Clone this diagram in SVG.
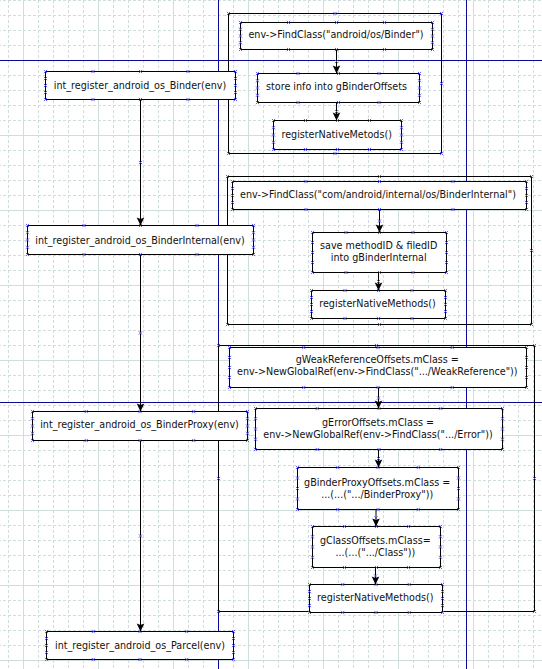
<svg xmlns="http://www.w3.org/2000/svg" width="542" height="669" viewBox="0 0 542 669">
<style>
.grid-major{stroke:#cfdddd;stroke-width:1;fill:none}
.grid-minor{stroke:#cfdddd;stroke-width:1;fill:none;stroke-dasharray:3,2}
.guide{stroke:#0a0a96;stroke-width:1;fill:none}
.outer{fill:none;stroke:#000;stroke-width:1}
.box{fill:#fff;stroke:#000;stroke-width:1}
.cps{fill:none;stroke:none;marker-start:url(#cp);marker-mid:url(#cp);marker-end:url(#cp)}
.lbl{font-family:"DejaVu Sans","Liberation Sans",sans-serif;font-size:9.6px;fill:#111;text-anchor:middle}
.conn{fill:none;stroke:#000;stroke-width:1;marker-mid:url(#cp);marker-end:url(#arrow)}
</style>
<defs>
<pattern id="grid" patternUnits="userSpaceOnUse" x="23" y="60" width="75" height="75">
<path class="grid-minor" d="M15.5,0V75M30.5,0V75M45.5,0V75M60.5,0V75M0,15.5H75M0,30.5H75M0,45.5H75M0,60.5H75"/>
<path class="grid-major" d="M0.5,0V75M0,0.5H75"/>
</pattern>
<marker id="cp" markerUnits="userSpaceOnUse" markerWidth="6" markerHeight="6" viewBox="-3 -3 6 6" refX="0" refY="0" overflow="visible">
<path d="M-1.6,-1.6L1.6,1.6M-1.6,1.6L1.6,-1.6" stroke="#5050e6" stroke-width="0.9" fill="none"/>
</marker>
<marker id="arrow" markerUnits="userSpaceOnUse" markerWidth="10" markerHeight="10" viewBox="-9 -5 10 10" refX="0" refY="0" orient="auto" overflow="visible">
<path d="M0,0L-8,-3.8L-6.5,0L-8,3.8z" fill="#000"/>
</marker>
</defs>
<rect x="0" y="0" width="542" height="669" fill="#fff"/>
<rect x="0" y="0" width="542" height="669" fill="url(#grid)"/>
<g id="guides">
<path class="guide" d="M218.5,0V669M466.5,0V669M0,60.5H542M0,402.5H542"/>
</g>
<g id="group-binder">
<rect class="outer" x="228.5" y="13.5" width="213" height="140"/>
<path class="cps" d="M228.5,13.5h106.5h106.5v70v70h-106.5h-106.5v-70"/>
</g>
<g id="group-binderinternal">
<rect class="outer" x="227.5" y="176.5" width="304" height="148"/>
<path class="cps" d="M227.5,176.5h152h152v74v74h-152h-152v-74"/>
</g>
<g id="group-binderproxy">
<rect class="outer" x="218.5" y="345.5" width="316" height="266"/>
<path class="cps" d="M218.5,345.5h158h158v133v133h-158h-158v-133"/>
</g>
<g id="n1">
<rect class="box" x="45.5" y="71.5" width="190" height="28"/>
<path class="cps" d="M45.5,71.5h47.5h47.5h47.5h47.5v7v7v7v7h-47.5h-47.5h-47.5h-47.5v-7v-7v-7"/>
<text class="lbl" x="140" y="88.5">int_register_android_os_Binder(env)</text>
</g>
<g id="n2">
<rect class="box" x="27.5" y="225.5" width="226" height="29"/>
<path class="cps" d="M27.5,225.5h56.5h56.5h56.5h56.5v7.25v7.25v7.25v7.25h-56.5h-56.5h-56.5h-56.5v-7.25v-7.25v-7.25"/>
<text class="lbl" x="140" y="243.5">int_register_android_os_BinderInternal(env)</text>
</g>
<g id="n3">
<rect class="box" x="32.5" y="411.5" width="215" height="29"/>
<path class="cps" d="M32.5,411.5h53.75h53.75h53.75h53.75v7.25v7.25v7.25v7.25h-53.75h-53.75h-53.75h-53.75v-7.25v-7.25v-7.25"/>
<text class="lbl" x="139.5" y="427.8">int_register_android_os_BinderProxy(env)</text>
</g>
<g id="n4">
<rect class="box" x="46.5" y="631.5" width="187" height="28"/>
<path class="cps" d="M46.5,631.5h46.75h46.75h46.75h46.75v7v7v7v7h-46.75h-46.75h-46.75h-46.75v-7v-7v-7"/>
<text class="lbl" x="140" y="648.5">int_register_android_os_Parcel(env)</text>
</g>
<g id="n5">
<rect class="box" x="240.5" y="22.5" width="192" height="27"/>
<path class="cps" d="M240.5,22.5h48h48h48h48v6.75v6.75v6.75v6.75h-48h-48h-48h-48v-6.75v-6.75v-6.75"/>
<text class="lbl" x="336" y="37.5">env-&gt;FindClass("android/os/Binder")</text>
</g>
<g id="n6">
<rect class="box" x="257.5" y="73.5" width="162" height="29"/>
<path class="cps" d="M257.5,73.5h40.5h40.5h40.5h40.5v7.25v7.25v7.25v7.25h-40.5h-40.5h-40.5h-40.5v-7.25v-7.25v-7.25"/>
<text class="lbl" x="336.5" y="89.5">store info into gBinderOffsets</text>
</g>
<g id="n7">
<rect class="box" x="273.5" y="120.5" width="128" height="29"/>
<path class="cps" d="M273.5,120.5h32h32h32h32v7.25v7.25v7.25v7.25h-32h-32h-32h-32v-7.25v-7.25v-7.25"/>
<text class="lbl" x="336.7" y="138.2">registerNativeMetods()</text>
</g>
<g id="n8">
<rect class="box" x="232.5" y="181.5" width="294" height="28"/>
<path class="cps" d="M232.5,181.5h73.5h73.5h73.5h73.5v7v7v7v7h-73.5h-73.5h-73.5h-73.5v-7v-7v-7"/>
<text class="lbl" x="378" y="197.8">env-&gt;FindClass("com/android/internal/os/BinderInternal")</text>
</g>
<g id="n9">
<rect class="box" x="312.5" y="232.5" width="134" height="40"/>
<path class="cps" d="M312.5,232.5h33.5h33.5h33.5h33.5v10v10v10v10h-33.5h-33.5h-33.5h-33.5v-10v-10v-10"/>
<text class="lbl" x="378.7" y="248.5">save methodID &amp; filedID</text>
<text class="lbl" x="378.7" y="260.8">into gBinderInternal</text>
</g>
<g id="n10">
<rect class="box" x="311.5" y="290.5" width="134" height="28"/>
<path class="cps" d="M311.5,290.5h33.5h33.5h33.5h33.5v7v7v7v7h-33.5h-33.5h-33.5h-33.5v-7v-7v-7"/>
<text class="lbl" x="377.5" y="306.8">registerNativeMethods()</text>
</g>
<g id="n11">
<rect class="box" x="229.5" y="347.5" width="297" height="40"/>
<path class="cps" d="M229.5,347.5h74.25h74.25h74.25h74.25v10v10v10v10h-74.25h-74.25h-74.25h-74.25v-10v-10v-10"/>
<text class="lbl" x="377.3" y="362.8">gWeakReferenceOffsets.mClass =</text>
<text class="lbl" x="377.3" y="374.8">env-&gt;NewGlobalRef(env-&gt;FindClass(".../WeakReference"))</text>
</g>
<g id="n12">
<rect class="box" x="255.5" y="408.5" width="247" height="41"/>
<path class="cps" d="M255.5,408.5h61.75h61.75h61.75h61.75v10.25v10.25v10.25v10.25h-61.75h-61.75h-61.75h-61.75v-10.25v-10.25v-10.25"/>
<text class="lbl" x="378" y="425.5">gErrorOffsets.mClass =</text>
<text class="lbl" x="378" y="437.8">env-&gt;NewGlobalRef(env-&gt;FindClass(".../Error"))</text>
</g>
<g id="n13">
<rect class="box" x="297.5" y="467.5" width="161" height="42"/>
<path class="cps" d="M297.5,467.5h40.25h40.25h40.25h40.25v10.5v10.5v10.5v10.5h-40.25h-40.25h-40.25h-40.25v-10.5v-10.5v-10.5"/>
<text class="lbl" x="377.2" y="486.2">gBinderProxyOffsets.mClass =</text>
<text class="lbl" x="377.2" y="497.8">...(...(".../BinderProxy"))</text>
</g>
<g id="n14">
<rect class="box" x="312.5" y="526.5" width="128" height="41"/>
<path class="cps" d="M312.5,526.5h32h32h32h32v10.25v10.25v10.25v10.25h-32h-32h-32h-32v-10.25v-10.25v-10.25"/>
<text class="lbl" x="375.3" y="544.2">gClassOffsets.mClass=</text>
<text class="lbl" x="375.3" y="555.8">...(...(".../Class"))</text>
</g>
<g id="n15">
<rect class="box" x="309.5" y="584.5" width="133" height="28"/>
<path class="cps" d="M309.5,584.5h33.25h33.25h33.25h33.25v7v7v7v7h-33.25h-33.25h-33.25h-33.25v-7v-7v-7"/>
<text class="lbl" x="375.3" y="600.8">registerNativeMethods()</text>
</g>
<g id="connectors">
<path class="conn" d="M140.5,100V162.5V225.5"/>
<path class="conn" d="M140.5,255V333V411.5"/>
<path class="conn" d="M140.5,441V536V631.5"/>
<path class="conn" d="M336.5,50V61.5V73.5"/>
<path class="conn" d="M336.5,103V111.5V120.5"/>
<path class="conn" d="M379.5,210V221V232.5"/>
<path class="conn" d="M378.5,273V281.5V290.5"/>
<path class="conn" d="M378.5,388V398V408.5"/>
<path class="conn" d="M378.5,450V458.5V467.5"/>
<path class="conn" d="M376,510V518V526.5"/>
<path class="conn" d="M375.5,568V576V584.5"/>
</g>
</svg>
